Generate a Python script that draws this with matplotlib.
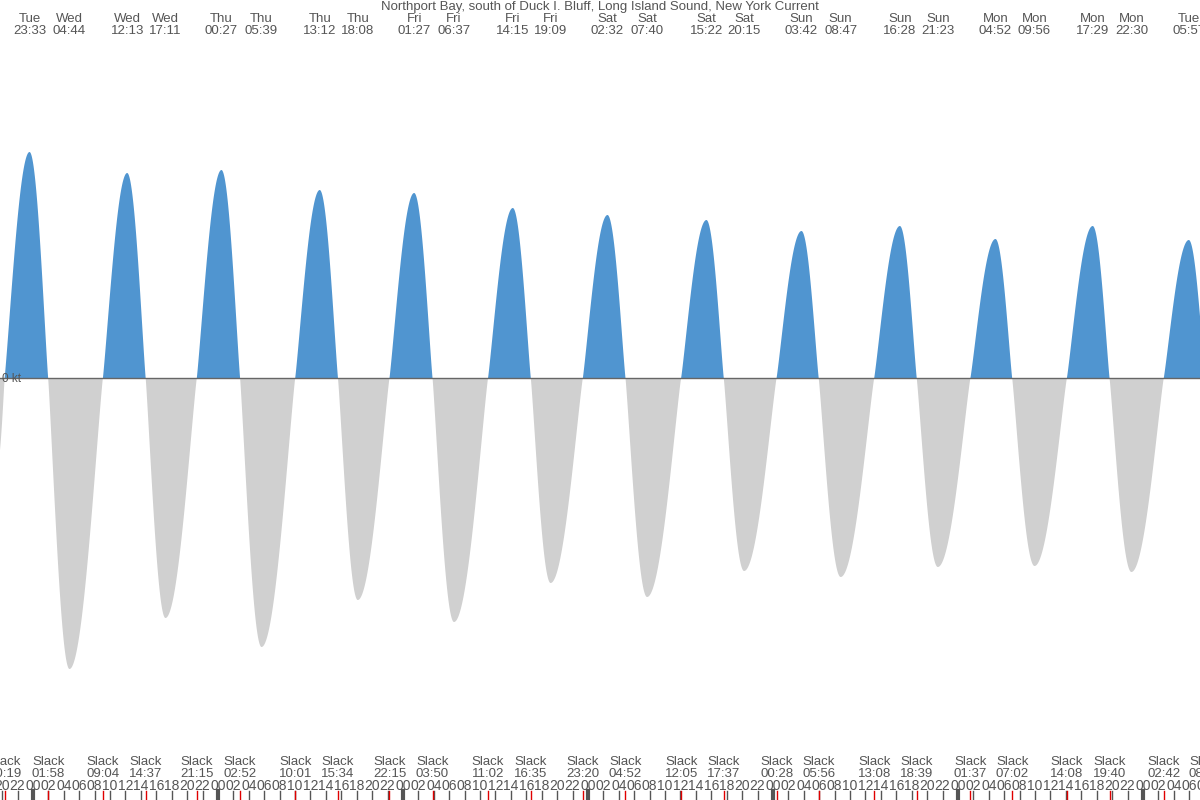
import numpy as np
import matplotlib
matplotlib.use("Agg")
import matplotlib.pyplot as plt

plt.rcParams['font.family'] = ['Liberation Sans', 'DejaVu Sans']
title = "Northport Bay, south of Duck I. Bluff, Long Island Sound, New York Current"

# hours since Tue 00:00
max_days = ["Tue","Wed","Wed","Wed","Thu","Thu","Thu","Thu","Fri","Fri","Fri","Fri","Sat","Sat","Sat","Sat",
            "Sun","Sun","Sun","Sun","Mon","Mon","Mon","Mon","Tue"]
max_labels = ["23:33","04:44","12:13","17:11","00:27","05:39","13:12","18:08","01:27","06:37","14:15","19:09",
              "02:32","07:40","15:22","20:15","03:42","08:47","16:28","21:23","04:52","09:56","17:29","22:30","05:57"]
max_speed = [2.26,-2.91,2.05,-2.40,2.08,-2.69,1.88,-2.22,1.85,-2.44,1.70,-2.05,1.63,-2.19,1.58,-1.93,
             1.47,-1.99,1.52,-1.89,1.39,-1.88,1.52,-1.94,1.38]
slack_labels = ["20:19","01:58","09:04","14:37","21:15","02:52","10:01","15:34","22:15","03:50","11:02","16:35",
                "23:20","04:52","12:05","17:37","00:28","05:56","13:08","18:39","01:37","07:02","14:08","19:40",
                "02:42","08:05"]
start_speed = -0.72

day_index = {"Tue":0,"Wed":1,"Thu":2,"Fri":3,"Sat":4,"Sun":5,"Mon":6}
def hm(s): h, m = s.split(":"); return int(h) + int(m)/60

max_t = []
for i,(d,s) in enumerate(zip(max_days, max_labels)):
    off = day_index[d]*24 if i < len(max_days)-1 else 7*24
    max_t.append(off + hm(s))
slack_t = []
prev = -1; base = 0
for s in slack_labels:
    v = base + hm(s)
    if v < prev: base += 24; v = base + hm(s)
    slack_t.append(v); prev = v
slack_t = np.array(slack_t); max_t = np.array(max_t)

x0 = 24 - 33/7.708
x1 = x0 + 1200/7.708

t = np.linspace(x0, x1, 4000)
v = np.zeros_like(t)
for k in range(len(slack_t)-1):
    s0, s1 = slack_t[k], slack_t[k+1]
    m, A = max_t[k], max_speed[k]
    a = (t >= s0) & (t <= m)
    v[a] = A*np.sin(np.pi/2*(t[a]-s0)/(m-s0))**1.1
    b = (t > m) & (t <= s1)
    v[b] = A*np.sin(np.pi/2*(s1-t[b])/(s1-m))**1.1
pre = t < slack_t[0]
v[pre] = start_speed*np.sin(np.pi/2*(slack_t[0]-t[pre])/(slack_t[0]-x0)*0.6)/np.sin(np.pi/2*0.6)

fig = plt.figure(figsize=(12,8), dpi=100)
ax = fig.add_axes([0,0,1,1])
ax.set_xlim(x0, x1); ax.set_ylim(-4.22, 3.78)
ax.axis('off')
ax.fill_between(t, 0, v, where=v>=0, color='#5095d0', lw=0, interpolate=True)
ax.fill_between(t, 0, v, where=v<=0, color='#d0d0d0', lw=0, interpolate=True)
ax.axhline(0, color='#666666', lw=1)
ax.text(x0+2/7.708, -0.01, "0 kt", fontsize=8.5, color='#555555', va='center', ha='left')

tc = '#555555'
for tt, d, s in zip(max_t, max_days, max_labels):
    ax.text(tt, 1-19/800, d, transform=ax.get_xaxis_transform(), ha='center', va='center', fontsize=9.5, color=tc)
    ax.text(tt, 1-31/800, s, transform=ax.get_xaxis_transform(), ha='center', va='center', fontsize=9.5, color=tc)
fig.text(0.5, 1-7/800, title, ha='center', va='center', fontsize=9.5, color=tc)
for tt, s in zip(slack_t, slack_labels):
    ax.text(tt, 38/800, "Slack", transform=ax.get_xaxis_transform(), ha='center', va='center', fontsize=9.5, color=tc)
    ax.text(tt, 26/800, s, transform=ax.get_xaxis_transform(), ha='center', va='center', fontsize=9.5, color=tc)

h = np.arange(np.ceil(x0/2)*2, x1+2, 2)
for hh in h:
    ax.text(hh, 14/800, "%02d" % (int(hh) % 24), transform=ax.get_xaxis_transform(), ha='center', va='center', fontsize=10, color=tc)
    lw = 3 if int(hh) % 24 == 0 else 1
    ax.plot([hh, hh], [0, 9/800], transform=ax.get_xaxis_transform(), color='#555555', lw=lw)
for tt in slack_t:
    ax.plot([tt, tt], [0, 9/800], transform=ax.get_xaxis_transform(), color='#e00000', lw=1)

fig.savefig("out.png")
